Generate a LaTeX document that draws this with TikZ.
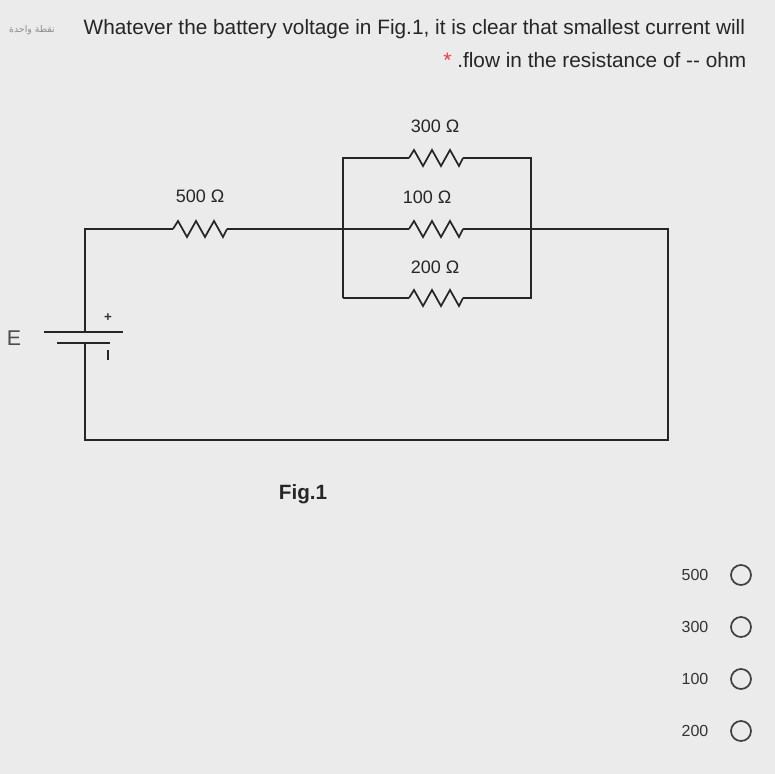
\documentclass[tikz,border=0pt]{standalone}
\usepackage{fontspec}
\setmainfont{Liberation Sans}
\newfontfamily\arab[Script=Arabic]{DejaVu Sans}
\begin{document}
\begin{tikzpicture}[x=0.75pt,y=-0.75pt,
  wire/.style={line width=1.3pt,black!85},
  lbl/.style={font=\fontsize{13.5}{15}\selectfont,text=black!85},
  qst/.style={font=\fontsize{15.6}{17}\selectfont,text=black!85},
  opt/.style={font=\fontsize{12}{13}\selectfont,text=black!80},
  rad/.style={draw=black!75,line width=1.3pt,circle,minimum size=15pt,inner sep=0pt},
  zz/.pic={\draw[wire] (0,0) -- (5,-8) -- (14,8) -- (23,-8) -- (32,8) -- (41,-8) -- (50,8) -- (54,0);}]
\fill[black!8] (0,0) rectangle (775,774);
\useasboundingbox (0,0) rectangle (775,774);
\node[text=black!45,font=\arab\fontsize{7}{8}\selectfont] (ar) at (32,30) {واحدة نقطة};
\node[qst,anchor=west] (q1) at (79,29) {Whatever the battery voltage in Fig.1, it is clear that smallest current will};
\node[qst,anchor=east] (q2) at (751,60) {\textcolor{red!80}{*} .flow in the resistance of -{}- ohm};
% coordinates
\coordinate (tl) at (85,229); \coordinate (tr) at (668,229);
\coordinate (bl) at (85,440); \coordinate (br) at (668,440);
\coordinate (pl) at (343,229); \coordinate (pr) at (531,229);
\coordinate (ptl) at (343,158); \coordinate (ptr) at (531,158);
\coordinate (pbl) at (343,298); \coordinate (pbr) at (531,298);
\coordinate (bt) at (85,332); \coordinate (bb) at (85,343);
% wires
\draw[wire] (bt) -- (tl) -- (173,229);
\draw[wire] (227,229) -- (pl);
\pic at (173,229) {zz};
\draw[wire] (pl) -- (409,229); \pic at (409,229) {zz}; \draw[wire] (463,229) -- (pr) -- (tr) -- (br) -- (bl) -- (bb);
\draw[wire] (pbl) -- (ptl) -- (409,158); \pic at (409,158) {zz}; \draw[wire] (463,158) -- (ptr) -- (pbr) -- (463,298);
\pic at (409,298) {zz}; \draw[wire] (409,298) -- (pbl);
% battery
\draw[wire] (44,332) -- (123,332);
\draw[wire] (57,343) -- (110,343);
\node[font=\bfseries\fontsize{10}{10}\selectfont,text=black!80] (plus) at (108,318) {+};
\draw[wire,line width=1pt] (108,350) -- (108,360);
\node[font=\fontsize{16}{18}\selectfont,text=black!70] (E) at (14,338) {E};
% labels
\node[lbl] (r500) at (200,196) {500 Ω};
\node[lbl] (r300) at (435,126) {300 Ω};
\node[lbl] (r100) at (427,197) {100 Ω};
\node[lbl] (r200) at (435,267) {200 Ω};
\node[font=\bfseries\fontsize{15.5}{18}\selectfont,text=black!85] (fig) at (303,494) {Fig.1};
% options
\foreach \v/\y in {500/575,300/627,100/679,200/731}{
  \node[opt] (t\v) at (695,\y) {\v};
  \node[rad] (c\v) at (741,\y) {};
}
\end{tikzpicture}
\end{document}
